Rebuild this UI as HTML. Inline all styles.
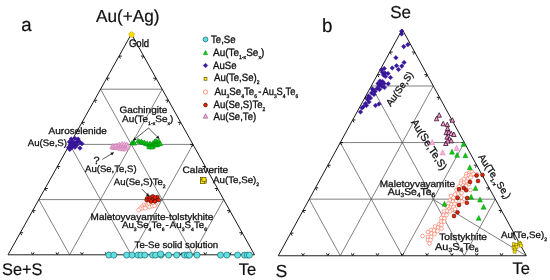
<!DOCTYPE html>
<html><head><meta charset="utf-8"><title>Ternary diagrams</title>
<style>html,body{margin:0;padding:0;background:#fff;overflow:hidden}svg{display:block}text{font-family:"Liberation Sans",sans-serif;text-rendering:geometricPrecision}</style>
</head><body>
<svg width="550" height="280" viewBox="0 0 550 280">
<rect width="550" height="280" fill="#fff"/>
<line x1="100.55" y1="89.20" x2="162.18" y2="89.20" stroke="#4a4a4a" stroke-width="0.7"/>
<line x1="100.55" y1="89.20" x2="192.88" y2="254.80" stroke="#4a4a4a" stroke-width="0.7"/>
<line x1="162.18" y1="89.20" x2="69.62" y2="254.80" stroke="#4a4a4a" stroke-width="0.7"/>
<line x1="69.70" y1="144.40" x2="192.95" y2="144.40" stroke="#4a4a4a" stroke-width="0.7"/>
<line x1="69.70" y1="144.40" x2="131.25" y2="254.80" stroke="#4a4a4a" stroke-width="0.7"/>
<line x1="192.95" y1="144.40" x2="131.25" y2="254.80" stroke="#4a4a4a" stroke-width="0.7"/>
<line x1="38.85" y1="199.60" x2="223.72" y2="199.60" stroke="#4a4a4a" stroke-width="0.7"/>
<line x1="38.85" y1="199.60" x2="69.62" y2="254.80" stroke="#4a4a4a" stroke-width="0.7"/>
<line x1="223.72" y1="199.60" x2="192.88" y2="254.80" stroke="#4a4a4a" stroke-width="0.7"/>
<path d="M32.65 254.80L34.02 252.36 M32.65 254.80L31.29 252.35 M119.06 56.08L121.86 56.08 M119.06 56.08L120.42 58.53 M143.71 56.08L140.91 56.08 M143.71 56.08L142.34 58.52 M57.30 254.80L58.67 252.36 M57.30 254.80L55.94 252.35 M106.72 78.16L109.52 78.16 M106.72 78.16L108.08 80.61 M156.02 78.16L153.22 78.16 M156.02 78.16L154.65 80.60 M81.95 254.80L83.32 252.36 M81.95 254.80L80.59 252.35 M94.38 100.24L97.18 100.24 M94.38 100.24L95.74 102.69 M168.33 100.24L165.53 100.24 M168.33 100.24L166.96 102.68 M106.60 254.80L107.97 252.36 M106.60 254.80L105.24 252.35 M82.04 122.32L84.84 122.32 M82.04 122.32L83.40 124.77 M180.64 122.32L177.84 122.32 M180.64 122.32L179.27 124.76 M131.25 254.80L132.62 252.36 M131.25 254.80L129.89 252.35 M69.70 144.40L72.50 144.40 M69.70 144.40L71.06 146.85 M192.95 144.40L190.15 144.40 M192.95 144.40L191.58 146.84 M155.90 254.80L157.27 252.36 M155.90 254.80L154.54 252.35 M57.36 166.48L60.16 166.48 M57.36 166.48L58.72 168.93 M205.26 166.48L202.46 166.48 M205.26 166.48L203.89 168.92 M180.55 254.80L181.92 252.36 M180.55 254.80L179.19 252.35 M45.02 188.56L47.82 188.56 M45.02 188.56L46.38 191.01 M217.57 188.56L214.77 188.56 M217.57 188.56L216.20 191.00 M205.20 254.80L206.57 252.36 M205.20 254.80L203.84 252.35 M32.68 210.64L35.48 210.64 M32.68 210.64L34.04 213.09 M229.88 210.64L227.08 210.64 M229.88 210.64L228.51 213.08 M229.85 254.80L231.22 252.36 M229.85 254.80L228.49 252.35 M20.34 232.72L23.14 232.72 M20.34 232.72L21.70 235.17 M242.19 232.72L239.39 232.72 M242.19 232.72L240.82 235.16" stroke="#000" stroke-width="0.9" fill="none"/>
<line x1="8" y1="254.8" x2="254.5" y2="254.8" stroke="#222" stroke-width="1.0"/>
<path d="M8 254.8L131.4 34L254.5 254.8" stroke="#161616" stroke-width="1.0" fill="none" stroke-linejoin="miter"/>
<line x1="371.29" y1="85.99" x2="433.30" y2="85.99" stroke="#4a4a4a" stroke-width="0.7"/>
<line x1="371.29" y1="85.99" x2="464.29" y2="255.75" stroke="#4a4a4a" stroke-width="0.7"/>
<line x1="433.30" y1="85.99" x2="340.26" y2="255.75" stroke="#4a4a4a" stroke-width="0.7"/>
<line x1="340.27" y1="142.57" x2="464.30" y2="142.57" stroke="#4a4a4a" stroke-width="0.7"/>
<line x1="340.27" y1="142.57" x2="402.27" y2="255.75" stroke="#4a4a4a" stroke-width="0.7"/>
<line x1="464.30" y1="142.57" x2="402.27" y2="255.75" stroke="#4a4a4a" stroke-width="0.7"/>
<line x1="309.26" y1="199.16" x2="495.30" y2="199.16" stroke="#4a4a4a" stroke-width="0.7"/>
<line x1="309.26" y1="199.16" x2="340.26" y2="255.75" stroke="#4a4a4a" stroke-width="0.7"/>
<line x1="495.30" y1="199.16" x2="464.29" y2="255.75" stroke="#4a4a4a" stroke-width="0.7"/>
<line x1="433.00" y1="199.30" x2="526.30" y2="255.75" stroke="#4a4a4a" stroke-width="0.7"/>
<path d="M303.06 255.75L304.40 253.29 M303.06 255.75L301.71 253.29 M389.89 52.03L392.69 52.03 M389.89 52.03L391.24 54.49 M414.70 52.03L411.90 52.03 M414.70 52.03L413.35 54.49 M327.86 255.75L329.21 253.29 M327.86 255.75L326.51 253.29 M377.49 74.67L380.29 74.67 M377.49 74.67L378.84 77.13 M427.10 74.67L424.30 74.67 M427.10 74.67L425.75 77.13 M352.66 255.75L354.01 253.29 M352.66 255.75L351.32 253.29 M365.09 97.31L367.89 97.31 M365.09 97.31L366.43 99.76 M439.50 97.31L436.70 97.31 M439.50 97.31L438.15 99.76 M377.47 255.75L378.82 253.29 M377.47 255.75L376.12 253.29 M352.68 119.94L355.48 119.94 M352.68 119.94L354.03 122.40 M451.90 119.94L449.10 119.94 M451.90 119.94L450.55 122.40 M402.27 255.75L403.62 253.29 M402.27 255.75L400.93 253.29 M340.27 142.57L343.07 142.57 M340.27 142.57L341.62 145.03 M464.30 142.57L461.50 142.57 M464.30 142.57L462.95 145.03 M427.08 255.75L428.43 253.29 M427.08 255.75L425.73 253.29 M327.87 165.21L330.67 165.21 M327.87 165.21L329.22 167.67 M476.70 165.21L473.90 165.21 M476.70 165.21L475.35 167.67 M451.88 255.75L453.23 253.29 M451.88 255.75L450.54 253.29 M315.47 187.84L318.27 187.84 M315.47 187.84L316.81 190.30 M489.10 187.84L486.30 187.84 M489.10 187.84L487.75 190.30 M476.69 255.75L478.04 253.29 M476.69 255.75L475.34 253.29 M303.06 210.48L305.86 210.48 M303.06 210.48L304.41 212.94 M501.50 210.48L498.70 210.48 M501.50 210.48L500.15 212.94 M501.50 255.75L502.84 253.29 M501.50 255.75L500.15 253.29 M290.65 233.12L293.45 233.12 M290.65 233.12L292.00 235.57 M513.90 233.12L511.10 233.12 M513.90 233.12L512.55 235.57" stroke="#000" stroke-width="0.9" fill="none"/>
<line x1="278.25" y1="255.75" x2="526.3" y2="255.75" stroke="#222" stroke-width="1.0"/>
<path d="M278.25 255.75L402.3 29.4L526.3 255.75" stroke="#161616" stroke-width="1.0" fill="none" stroke-linejoin="miter"/>
<text x="0" y="0" transform="translate(21.3 30.9) scale(1 1.02)" font-size="18.6" text-anchor="start" fill="#111" stroke="#111" stroke-width="0.2">a</text>
<text x="0" y="0" transform="translate(96 22) scale(1 1.02)" font-size="17" text-anchor="start" fill="#111" stroke="#111" stroke-width="0.2" textLength="63.5" lengthAdjust="spacingAndGlyphs">Au(+Ag)</text>
<text x="0" y="0" transform="translate(2 275) scale(1 1.02)" font-size="16.5" text-anchor="start" fill="#111" stroke="#111" stroke-width="0.2" textLength="40.5" lengthAdjust="spacingAndGlyphs">Se+S</text>
<text x="0" y="0" transform="translate(238.7 275) scale(1 1.02)" font-size="16.5" text-anchor="start" fill="#111" stroke="#111" stroke-width="0.2">Te</text>
<text x="0" y="0" transform="translate(128.9 46.5) scale(1 1.1)" font-size="10" text-anchor="start" fill="#111" stroke="#111" stroke-width="0.3" textLength="20.2" lengthAdjust="spacingAndGlyphs">Gold</text>
<text x="0" y="0" transform="translate(48.6 134.2) scale(1 0.96)" font-size="9.75" text-anchor="start" fill="#111" stroke="#111" stroke-width="0.3" textLength="58.3" lengthAdjust="spacingAndGlyphs">Auroselenide</text>
<text x="0" y="0" transform="translate(27.8 145.6) scale(1 0.96)" font-size="9.75" text-anchor="start" fill="#111" stroke="#111" stroke-width="0.3" textLength="39.2" lengthAdjust="spacingAndGlyphs">Au(Se,S)</text>
<text x="0" y="0" transform="translate(93.4 163.5) scale(1 0.96)" font-size="11" text-anchor="start" fill="#111" stroke="#111" stroke-width="0.3">?</text>
<text x="0" y="0" transform="translate(85 172.1) scale(1 0.96)" font-size="9.75" text-anchor="start" fill="#111" stroke="#111" stroke-width="0.3" textLength="51.6" lengthAdjust="spacingAndGlyphs">Au(Se,Te,S)</text>
<text x="0" y="0" transform="translate(119.4 112.8) scale(1 0.96)" font-size="9.75" text-anchor="start" fill="#111" stroke="#111" stroke-width="0.3" textLength="47.9" lengthAdjust="spacingAndGlyphs">Gachingite</text>
<text x="0" y="0" transform="translate(122.1 122.4) scale(1 0.96)" font-size="9.75" text-anchor="start" fill="#111" stroke="#111" stroke-width="0.3" textLength="51.3" lengthAdjust="spacingAndGlyphs">Au(Te<tspan dy="2.63" font-size="5.07">1-x</tspan><tspan dy="-2.63" font-size="9.75">Se</tspan><tspan dy="2.63" font-size="5.07">x</tspan><tspan dy="-2.63" font-size="9.75">)</tspan></text>
<text x="0" y="0" transform="translate(113.75 185.3) scale(1 0.96)" font-size="9.75" text-anchor="start" fill="#111" stroke="#111" stroke-width="0.3" textLength="51.8" lengthAdjust="spacingAndGlyphs">Au(Se,S)Te<tspan dy="2.63" font-size="5.07">2</tspan></text>
<text x="0" y="0" transform="translate(182.5 173.2) scale(1 0.96)" font-size="9.75" text-anchor="start" fill="#111" stroke="#111" stroke-width="0.3" textLength="45.6" lengthAdjust="spacingAndGlyphs">Calaverite</text>
<text x="0" y="0" transform="translate(213 183.4) scale(1 0.96)" font-size="9.75" text-anchor="start" fill="#111" stroke="#111" stroke-width="0.3">Au(Te,Se)<tspan dy="2.63" font-size="5.07">2</tspan></text>
<text x="0" y="0" transform="translate(90.6 219.7) scale(1 0.96)" font-size="9.75" text-anchor="start" fill="#111" stroke="#111" stroke-width="0.3" textLength="122.8" lengthAdjust="spacingAndGlyphs">Maletoyvayamite-tolstykhite</text>
<text x="0" y="0" transform="translate(121.9 228.1) scale(1 0.96)" font-size="9.75" text-anchor="start" fill="#111" stroke="#111" stroke-width="0.3">Au<tspan dy="2.63" font-size="5.07">3</tspan><tspan dy="-2.63" font-size="9.75">Se</tspan><tspan dy="2.63" font-size="5.07">4</tspan><tspan dy="-2.63" font-size="9.75">Te</tspan><tspan dy="2.63" font-size="5.07">6</tspan></text>
<text x="0" y="0" transform="translate(165.4 228.1) scale(1 0.96)" font-size="9.75" text-anchor="start" fill="#111" stroke="#111" stroke-width="0.3">-</text>
<text x="0" y="0" transform="translate(169.8 228.1) scale(1 0.96)" font-size="9.75" text-anchor="start" fill="#111" stroke="#111" stroke-width="0.3">Au<tspan dy="2.63" font-size="5.07">3</tspan><tspan dy="-2.63" font-size="9.75">S</tspan><tspan dy="2.63" font-size="5.07">4</tspan><tspan dy="-2.63" font-size="9.75">Te</tspan><tspan dy="2.63" font-size="5.07">6</tspan></text>
<text x="0" y="0" transform="translate(134.6 248.2) scale(1 0.96)" font-size="9.75" text-anchor="start" fill="#111" stroke="#111" stroke-width="0.3" textLength="83.6" lengthAdjust="spacingAndGlyphs">Te-Se solid solution</text>
<circle cx="205.50" cy="39.40" r="2.4" fill="#62e0e0" stroke="#1f6f78" stroke-width="0.8"/>
<text x="0" y="0" transform="translate(211 43.45) scale(1 1.1)" font-size="9.6" text-anchor="start" fill="#111" stroke="#111" stroke-width="0.3">Te,Se</text>
<path d="M205.50 50.40L207.66 54.72L203.34 54.72Z" fill="#04cc04" stroke="#0a8a1a" stroke-width="0.5"/>
<text x="0" y="0" transform="translate(213 55.8) scale(1 1.1)" font-size="9.6" text-anchor="start" fill="#111" stroke="#111" stroke-width="0.3" textLength="51.3" lengthAdjust="spacingAndGlyphs">Au(Te<tspan dy="2.59" font-size="4.99">1-x</tspan><tspan dy="-2.59" font-size="9.6">Se</tspan><tspan dy="2.59" font-size="4.99">x</tspan><tspan dy="-2.59" font-size="9.6">)</tspan></text>
<path d="M205.50 63.20L207.80 65.50L205.50 67.80L203.20 65.50Z" fill="#3a16a0" stroke="#2a0e80" stroke-width="0.4"/>
<text x="0" y="0" transform="translate(213 68.7) scale(1 1.1)" font-size="9.6" text-anchor="start" fill="#111" stroke="#111" stroke-width="0.3">AuSe</text>
<rect x="204.05" y="77.35" width="2.9" height="2.9" fill="#ffe800" stroke="#4a4200" stroke-width="0.6"/>
<text x="0" y="0" transform="translate(214 81.45) scale(1 1.1)" font-size="9.6" text-anchor="start" fill="#111" stroke="#111" stroke-width="0.3">Au(Te,Se)<tspan dy="2.59" font-size="4.99">2</tspan></text>
<circle cx="205.50" cy="92.00" r="2.1" fill="#fff" stroke="#ff5030" stroke-width="0.6"/>
<text x="0" y="0" transform="translate(214.5 95.4) scale(1 1.1)" font-size="9.6" text-anchor="start" fill="#111" stroke="#111" stroke-width="0.3" textLength="42.6" lengthAdjust="spacingAndGlyphs">Au<tspan dy="2.59" font-size="4.99">3</tspan><tspan dy="-2.59" font-size="9.6">Se</tspan><tspan dy="2.59" font-size="4.99">4</tspan><tspan dy="-2.59" font-size="9.6">Te</tspan><tspan dy="2.59" font-size="4.99">6</tspan></text>
<text x="0" y="0" transform="translate(258.2 95.4) scale(1 1.1)" font-size="9.6" text-anchor="start" fill="#111" stroke="#111" stroke-width="0.3">-</text>
<text x="0" y="0" transform="translate(262.5 95.4) scale(1 1.1)" font-size="9.6" text-anchor="start" fill="#111" stroke="#111" stroke-width="0.3" textLength="35.6" lengthAdjust="spacingAndGlyphs">Au<tspan dy="2.59" font-size="4.99">3</tspan><tspan dy="-2.59" font-size="9.6">S</tspan><tspan dy="2.59" font-size="4.99">4</tspan><tspan dy="-2.59" font-size="9.6">Te</tspan><tspan dy="2.59" font-size="4.99">6</tspan></text>
<circle cx="205.50" cy="105.00" r="1.9" fill="#ee2200" stroke="#3c0800" stroke-width="0.6"/>
<text x="0" y="0" transform="translate(213.5 108.1) scale(1 1.1)" font-size="9.6" text-anchor="start" fill="#111" stroke="#111" stroke-width="0.3">Au(Se,S)Te<tspan dy="2.59" font-size="4.99">2</tspan></text>
<path d="M205.50 113.70L207.75 118.20L203.25 118.20Z" fill="#f6a8dc" stroke="#7a3a68" stroke-width="0.5"/>
<text x="0" y="0" transform="translate(213.5 120.2) scale(1 1.1)" font-size="9.6" text-anchor="start" fill="#111" stroke="#111" stroke-width="0.3">Au(Se,Te)</text>
<path d="M131.60 31.60L134.45 33.67L133.36 37.03L129.84 37.03L128.75 33.67Z" fill="#ffe000" stroke="#c09a00" stroke-width="0.6"/>
<circle cx="108.90" cy="255.10" r="3.05" fill="#62e0e0" stroke="#1f6f78" stroke-width="0.7"/>
<circle cx="113.80" cy="255.10" r="3.05" fill="#62e0e0" stroke="#1f6f78" stroke-width="0.7"/>
<circle cx="126.60" cy="255.10" r="3.05" fill="#62e0e0" stroke="#1f6f78" stroke-width="0.7"/>
<circle cx="132.10" cy="255.10" r="3.05" fill="#62e0e0" stroke="#1f6f78" stroke-width="0.7"/>
<circle cx="138.00" cy="255.10" r="3.05" fill="#62e0e0" stroke="#1f6f78" stroke-width="0.7"/>
<circle cx="140.90" cy="255.10" r="3.05" fill="#62e0e0" stroke="#1f6f78" stroke-width="0.7"/>
<circle cx="144.80" cy="255.10" r="3.05" fill="#62e0e0" stroke="#1f6f78" stroke-width="0.7"/>
<circle cx="152.70" cy="255.10" r="3.05" fill="#62e0e0" stroke="#1f6f78" stroke-width="0.7"/>
<circle cx="155.60" cy="255.10" r="3.05" fill="#62e0e0" stroke="#1f6f78" stroke-width="0.7"/>
<circle cx="161.00" cy="255.10" r="3.05" fill="#62e0e0" stroke="#1f6f78" stroke-width="0.7"/>
<circle cx="168.60" cy="255.10" r="3.05" fill="#62e0e0" stroke="#1f6f78" stroke-width="0.7"/>
<circle cx="176.70" cy="255.10" r="3.05" fill="#62e0e0" stroke="#1f6f78" stroke-width="0.7"/>
<circle cx="184.60" cy="255.10" r="3.05" fill="#62e0e0" stroke="#1f6f78" stroke-width="0.7"/>
<circle cx="187.50" cy="255.10" r="3.05" fill="#62e0e0" stroke="#1f6f78" stroke-width="0.7"/>
<circle cx="189.50" cy="255.10" r="3.05" fill="#62e0e0" stroke="#1f6f78" stroke-width="0.7"/>
<circle cx="197.00" cy="255.10" r="3.05" fill="#62e0e0" stroke="#1f6f78" stroke-width="0.7"/>
<circle cx="220.50" cy="255.10" r="3.05" fill="#62e0e0" stroke="#1f6f78" stroke-width="0.7"/>
<circle cx="226.80" cy="255.10" r="3.05" fill="#62e0e0" stroke="#1f6f78" stroke-width="0.7"/>
<circle cx="237.60" cy="255.10" r="3.05" fill="#62e0e0" stroke="#1f6f78" stroke-width="0.7"/>
<circle cx="244.50" cy="255.10" r="3.05" fill="#62e0e0" stroke="#1f6f78" stroke-width="0.7"/>
<circle cx="247.30" cy="255.10" r="3.05" fill="#62e0e0" stroke="#1f6f78" stroke-width="0.7"/>
<circle cx="249.40" cy="255.10" r="3.05" fill="#62e0e0" stroke="#1f6f78" stroke-width="0.7"/>
<circle cx="160.60" cy="254.00" r="3.05" fill="#62e0e0" stroke="#1f6f78" stroke-width="0.7"/>
<path d="M71.25 136.70L73.55 139.00L71.25 141.30L68.95 139.00Z" fill="#3a16a0" stroke="#2a0e80" stroke-width="0.4"/>
<path d="M75.00 136.20L77.30 138.50L75.00 140.80L72.70 138.50Z" fill="#3a16a0" stroke="#2a0e80" stroke-width="0.4"/>
<path d="M78.10 136.70L80.40 139.00L78.10 141.30L75.80 139.00Z" fill="#3a16a0" stroke="#2a0e80" stroke-width="0.4"/>
<path d="M69.40 139.60L71.70 141.90L69.40 144.20L67.10 141.90Z" fill="#3a16a0" stroke="#2a0e80" stroke-width="0.4"/>
<path d="M73.10 139.60L75.40 141.90L73.10 144.20L70.80 141.90Z" fill="#3a16a0" stroke="#2a0e80" stroke-width="0.4"/>
<path d="M76.90 139.60L79.20 141.90L76.90 144.20L74.60 141.90Z" fill="#3a16a0" stroke="#2a0e80" stroke-width="0.4"/>
<path d="M80.00 140.20L82.30 142.50L80.00 144.80L77.70 142.50Z" fill="#3a16a0" stroke="#2a0e80" stroke-width="0.4"/>
<path d="M81.90 141.45L84.20 143.75L81.90 146.05L79.60 143.75Z" fill="#3a16a0" stroke="#2a0e80" stroke-width="0.4"/>
<path d="M70.00 142.70L72.30 145.00L70.00 147.30L67.70 145.00Z" fill="#3a16a0" stroke="#2a0e80" stroke-width="0.4"/>
<path d="M73.75 142.70L76.05 145.00L73.75 147.30L71.45 145.00Z" fill="#3a16a0" stroke="#2a0e80" stroke-width="0.4"/>
<path d="M76.90 142.70L79.20 145.00L76.90 147.30L74.60 145.00Z" fill="#3a16a0" stroke="#2a0e80" stroke-width="0.4"/>
<path d="M68.50 145.20L70.80 147.50L68.50 149.80L66.20 147.50Z" fill="#3a16a0" stroke="#2a0e80" stroke-width="0.4"/>
<path d="M71.90 145.20L74.20 147.50L71.90 149.80L69.60 147.50Z" fill="#3a16a0" stroke="#2a0e80" stroke-width="0.4"/>
<path d="M75.00 144.95L77.30 147.25L75.00 149.55L72.70 147.25Z" fill="#3a16a0" stroke="#2a0e80" stroke-width="0.4"/>
<path d="M80.00 145.80L82.30 148.10L80.00 150.40L77.70 148.10Z" fill="#3a16a0" stroke="#2a0e80" stroke-width="0.4"/>
<path d="M69.75 147.10L72.05 149.40L69.75 151.70L67.45 149.40Z" fill="#3a16a0" stroke="#2a0e80" stroke-width="0.4"/>
<path d="M72.50 141.20L74.80 143.50L72.50 145.80L70.20 143.50Z" fill="#3a16a0" stroke="#2a0e80" stroke-width="0.4"/>
<path d="M75.50 141.20L77.80 143.50L75.50 145.80L73.20 143.50Z" fill="#3a16a0" stroke="#2a0e80" stroke-width="0.4"/>
<path d="M78.50 138.70L80.80 141.00L78.50 143.30L76.20 141.00Z" fill="#3a16a0" stroke="#2a0e80" stroke-width="0.4"/>
<path d="M112.00 144.30L114.25 148.80L109.75 148.80Z" fill="#fbbde6" stroke="#b8689f" stroke-width="0.45"/>
<path d="M113.00 143.30L115.25 147.80L110.75 147.80Z" fill="#fbbde6" stroke="#b8689f" stroke-width="0.45"/>
<path d="M113.50 145.10L115.75 149.60L111.25 149.60Z" fill="#fbbde6" stroke="#b8689f" stroke-width="0.45"/>
<path d="M114.50 143.90L116.75 148.40L112.25 148.40Z" fill="#fbbde6" stroke="#b8689f" stroke-width="0.45"/>
<path d="M115.50 144.90L117.75 149.40L113.25 149.40Z" fill="#fbbde6" stroke="#b8689f" stroke-width="0.45"/>
<path d="M116.00 143.10L118.25 147.60L113.75 147.60Z" fill="#fbbde6" stroke="#b8689f" stroke-width="0.45"/>
<path d="M117.00 144.30L119.25 148.80L114.75 148.80Z" fill="#fbbde6" stroke="#b8689f" stroke-width="0.45"/>
<path d="M118.00 142.90L120.25 147.40L115.75 147.40Z" fill="#fbbde6" stroke="#b8689f" stroke-width="0.45"/>
<path d="M118.30 145.30L120.55 149.80L116.05 149.80Z" fill="#fbbde6" stroke="#b8689f" stroke-width="0.45"/>
<path d="M119.50 142.10L121.75 146.60L117.25 146.60Z" fill="#fbbde6" stroke="#b8689f" stroke-width="0.45"/>
<path d="M119.80 144.50L122.05 149.00L117.55 149.00Z" fill="#fbbde6" stroke="#b8689f" stroke-width="0.45"/>
<path d="M120.60 146.10L122.85 150.60L118.35 150.60Z" fill="#fbbde6" stroke="#b8689f" stroke-width="0.45"/>
<path d="M121.00 143.10L123.25 147.60L118.75 147.60Z" fill="#fbbde6" stroke="#b8689f" stroke-width="0.45"/>
<path d="M122.00 141.30L124.25 145.80L119.75 145.80Z" fill="#fbbde6" stroke="#b8689f" stroke-width="0.45"/>
<path d="M122.20 144.70L124.45 149.20L119.95 149.20Z" fill="#fbbde6" stroke="#b8689f" stroke-width="0.45"/>
<path d="M123.00 146.50L125.25 151.00L120.75 151.00Z" fill="#fbbde6" stroke="#b8689f" stroke-width="0.45"/>
<path d="M123.40 142.90L125.65 147.40L121.15 147.40Z" fill="#fbbde6" stroke="#b8689f" stroke-width="0.45"/>
<path d="M124.40 141.50L126.65 146.00L122.15 146.00Z" fill="#fbbde6" stroke="#b8689f" stroke-width="0.45"/>
<path d="M124.60 144.90L126.85 149.40L122.35 149.40Z" fill="#fbbde6" stroke="#b8689f" stroke-width="0.45"/>
<path d="M125.40 146.30L127.65 150.80L123.15 150.80Z" fill="#fbbde6" stroke="#b8689f" stroke-width="0.45"/>
<path d="M125.80 143.10L128.05 147.60L123.55 147.60Z" fill="#fbbde6" stroke="#b8689f" stroke-width="0.45"/>
<path d="M126.80 141.90L129.05 146.40L124.55 146.40Z" fill="#fbbde6" stroke="#b8689f" stroke-width="0.45"/>
<path d="M127.00 144.90L129.25 149.40L124.75 149.40Z" fill="#fbbde6" stroke="#b8689f" stroke-width="0.45"/>
<path d="M128.00 143.50L130.25 148.00L125.75 148.00Z" fill="#fbbde6" stroke="#b8689f" stroke-width="0.45"/>
<path d="M132.00 140.40L134.16 144.72L129.84 144.72Z" fill="#04cc04" stroke="#067a10" stroke-width="0.5"/>
<path d="M133.60 139.40L135.76 143.72L131.44 143.72Z" fill="#04cc04" stroke="#067a10" stroke-width="0.5"/>
<path d="M134.40 140.80L136.56 145.12L132.24 145.12Z" fill="#04cc04" stroke="#067a10" stroke-width="0.5"/>
<path d="M138.00 138.20L140.16 142.52L135.84 142.52Z" fill="#04cc04" stroke="#067a10" stroke-width="0.5"/>
<path d="M139.60 139.20L141.76 143.52L137.44 143.52Z" fill="#04cc04" stroke="#067a10" stroke-width="0.5"/>
<path d="M141.30 139.00L143.46 143.32L139.14 143.32Z" fill="#04cc04" stroke="#067a10" stroke-width="0.5"/>
<path d="M142.80 140.20L144.96 144.52L140.64 144.52Z" fill="#04cc04" stroke="#067a10" stroke-width="0.5"/>
<path d="M144.40 140.00L146.56 144.32L142.24 144.32Z" fill="#04cc04" stroke="#067a10" stroke-width="0.5"/>
<path d="M145.80 141.40L147.96 145.72L143.64 145.72Z" fill="#04cc04" stroke="#067a10" stroke-width="0.5"/>
<path d="M147.30 140.80L149.46 145.12L145.14 145.12Z" fill="#04cc04" stroke="#067a10" stroke-width="0.5"/>
<path d="M148.60 142.80L150.76 147.12L146.44 147.12Z" fill="#04cc04" stroke="#067a10" stroke-width="0.5"/>
<path d="M150.00 141.00L152.16 145.32L147.84 145.32Z" fill="#04cc04" stroke="#067a10" stroke-width="0.5"/>
<path d="M150.40 144.20L152.56 148.52L148.24 148.52Z" fill="#04cc04" stroke="#067a10" stroke-width="0.5"/>
<path d="M151.80 142.20L153.96 146.52L149.64 146.52Z" fill="#04cc04" stroke="#067a10" stroke-width="0.5"/>
<path d="M153.00 140.60L155.16 144.92L150.84 144.92Z" fill="#04cc04" stroke="#067a10" stroke-width="0.5"/>
<path d="M153.20 144.00L155.36 148.32L151.04 148.32Z" fill="#04cc04" stroke="#067a10" stroke-width="0.5"/>
<path d="M154.60 139.20L156.76 143.52L152.44 143.52Z" fill="#04cc04" stroke="#067a10" stroke-width="0.5"/>
<path d="M154.80 142.40L156.96 146.72L152.64 146.72Z" fill="#04cc04" stroke="#067a10" stroke-width="0.5"/>
<path d="M156.00 138.20L158.16 142.52L153.84 142.52Z" fill="#04cc04" stroke="#067a10" stroke-width="0.5"/>
<path d="M156.30 141.20L158.46 145.52L154.14 145.52Z" fill="#04cc04" stroke="#067a10" stroke-width="0.5"/>
<path d="M157.60 139.60L159.76 143.92L155.44 143.92Z" fill="#04cc04" stroke="#067a10" stroke-width="0.5"/>
<path d="M157.40 142.60L159.56 146.92L155.24 146.92Z" fill="#04cc04" stroke="#067a10" stroke-width="0.5"/>
<path d="M159.00 138.80L161.16 143.12L156.84 143.12Z" fill="#04cc04" stroke="#067a10" stroke-width="0.5"/>
<path d="M159.20 141.40L161.36 145.72L157.04 145.72Z" fill="#04cc04" stroke="#067a10" stroke-width="0.5"/>
<path d="M160.40 141.20L162.56 145.52L158.24 145.52Z" fill="#04cc04" stroke="#067a10" stroke-width="0.5"/>
<path d="M149.00 144.60L151.16 148.92L146.84 148.92Z" fill="#04cc04" stroke="#067a10" stroke-width="0.5"/>
<path d="M152.00 144.80L154.16 149.12L149.84 149.12Z" fill="#04cc04" stroke="#067a10" stroke-width="0.5"/>
<rect x="200.30" y="177.40" width="4.0" height="4.0" fill="#ffe800" stroke="#4a4200" stroke-width="0.6"/>
<rect x="202.20" y="179.20" width="4.0" height="4.0" fill="#ffe800" stroke="#4a4200" stroke-width="0.6"/>
<rect x="200.60" y="179.70" width="4.0" height="4.0" fill="#ffe800" stroke="#4a4200" stroke-width="0.6"/>
<rect x="202.00" y="177.30" width="4.0" height="4.0" fill="#ffe800" stroke="#4a4200" stroke-width="0.6"/>
<circle cx="155.70" cy="204.40" r="1.9" fill="#fff" stroke="#ff5030" stroke-width="0.45"/>
<circle cx="153.10" cy="204.00" r="1.9" fill="#fff" stroke="#ff5030" stroke-width="0.45"/>
<circle cx="150.60" cy="204.90" r="1.9" fill="#fff" stroke="#ff5030" stroke-width="0.45"/>
<circle cx="148.40" cy="204.00" r="1.9" fill="#fff" stroke="#ff5030" stroke-width="0.45"/>
<circle cx="145.90" cy="204.90" r="1.9" fill="#fff" stroke="#ff5030" stroke-width="0.45"/>
<circle cx="143.70" cy="204.90" r="1.9" fill="#fff" stroke="#ff5030" stroke-width="0.45"/>
<circle cx="147.10" cy="206.60" r="1.9" fill="#fff" stroke="#ff5030" stroke-width="0.45"/>
<circle cx="144.60" cy="207.00" r="1.9" fill="#fff" stroke="#ff5030" stroke-width="0.45"/>
<circle cx="149.70" cy="207.00" r="1.9" fill="#fff" stroke="#ff5030" stroke-width="0.45"/>
<circle cx="142.00" cy="206.60" r="1.9" fill="#fff" stroke="#ff5030" stroke-width="0.45"/>
<circle cx="142.90" cy="208.30" r="1.9" fill="#fff" stroke="#ff5030" stroke-width="0.45"/>
<circle cx="140.30" cy="208.70" r="1.9" fill="#fff" stroke="#ff5030" stroke-width="0.45"/>
<circle cx="138.60" cy="210.00" r="1.9" fill="#fff" stroke="#ff5030" stroke-width="0.45"/>
<circle cx="145.40" cy="208.30" r="1.9" fill="#fff" stroke="#ff5030" stroke-width="0.45"/>
<circle cx="152.30" cy="206.10" r="1.9" fill="#fff" stroke="#ff5030" stroke-width="0.45"/>
<circle cx="154.50" cy="205.80" r="1.9" fill="#fff" stroke="#ff5030" stroke-width="0.45"/>
<circle cx="147.10" cy="198.40" r="1.9" fill="#ee2200" stroke="#3c0800" stroke-width="0.6"/>
<circle cx="149.70" cy="197.60" r="1.9" fill="#ee2200" stroke="#3c0800" stroke-width="0.6"/>
<circle cx="152.70" cy="196.30" r="1.9" fill="#ee2200" stroke="#3c0800" stroke-width="0.6"/>
<circle cx="157.40" cy="197.10" r="1.9" fill="#ee2200" stroke="#3c0800" stroke-width="0.6"/>
<circle cx="146.70" cy="200.10" r="1.9" fill="#ee2200" stroke="#3c0800" stroke-width="0.6"/>
<circle cx="149.70" cy="200.10" r="1.9" fill="#ee2200" stroke="#3c0800" stroke-width="0.6"/>
<circle cx="152.70" cy="200.10" r="1.9" fill="#ee2200" stroke="#3c0800" stroke-width="0.6"/>
<circle cx="155.70" cy="199.70" r="1.9" fill="#ee2200" stroke="#3c0800" stroke-width="0.6"/>
<circle cx="158.70" cy="200.10" r="1.9" fill="#ee2200" stroke="#3c0800" stroke-width="0.6"/>
<circle cx="151.00" cy="201.40" r="1.9" fill="#ee2200" stroke="#3c0800" stroke-width="0.6"/>
<circle cx="154.90" cy="201.40" r="1.9" fill="#ee2200" stroke="#3c0800" stroke-width="0.6"/>
<circle cx="155.00" cy="197.60" r="1.9" fill="#ee2200" stroke="#3c0800" stroke-width="0.6"/>
<line x1="102.3" y1="159.4" x2="111.19" y2="154.09" stroke="#111" stroke-width="0.7"/>
<path d="M114.20 152.30L112.01 155.47L110.37 152.72Z" fill="#111"/>
<line x1="148.5" y1="128" x2="135.61" y2="138.49" stroke="#111" stroke-width="0.7"/>
<path d="M132.90 140.70L134.60 137.25L136.62 139.73Z" fill="#111"/>
<line x1="148.5" y1="128" x2="157.03" y2="136.53" stroke="#111" stroke-width="0.7"/>
<path d="M159.50 139.00L155.89 137.66L158.16 135.39Z" fill="#111"/>
<line x1="142" y1="189.2" x2="146.94" y2="194.21" stroke="#111" stroke-width="0.7"/>
<path d="M149.40 196.70L145.80 195.33L148.08 193.08Z" fill="#111"/>
<text x="0" y="0" transform="translate(322 32) scale(1 1.02)" font-size="18.8" text-anchor="start" fill="#111" stroke="#111" stroke-width="0.2">b</text>
<text x="0" y="0" transform="translate(390.2 18.4) scale(1 1.02)" font-size="17" text-anchor="start" fill="#111" stroke="#111" stroke-width="0.2">Se</text>
<text x="0" y="0" transform="translate(275.8 276.7) scale(1 1.02)" font-size="17.2" text-anchor="start" fill="#111" stroke="#111" stroke-width="0.2">S</text>
<text x="0" y="0" transform="translate(512.5 274) scale(1 1.02)" font-size="16.5" text-anchor="start" fill="#111" stroke="#111" stroke-width="0.2">Te</text>
<text x="0" y="0" transform="translate(379.7 186.6) scale(1 0.96)" font-size="9.75" text-anchor="start" fill="#111" stroke="#111" stroke-width="0.3" textLength="75.4" lengthAdjust="spacingAndGlyphs">Maletoyvayamite</text>
<text x="0" y="0" transform="translate(387.8 195.1) scale(1 0.96)" font-size="10.2" text-anchor="start" fill="#111" stroke="#111" stroke-width="0.3" textLength="47.3" lengthAdjust="spacingAndGlyphs">Au<tspan dy="2.45" font-size="6.32">3</tspan><tspan dy="-2.45" font-size="10.2">Se</tspan><tspan dy="2.45" font-size="6.32">4</tspan><tspan dy="-2.45" font-size="10.2">Te</tspan><tspan dy="2.45" font-size="6.32">6</tspan></text>
<text x="0" y="0" transform="translate(439.2 239.9) scale(1 0.96)" font-size="9.75" text-anchor="start" fill="#111" stroke="#111" stroke-width="0.3" textLength="47.8" lengthAdjust="spacingAndGlyphs">Tolstykhite</text>
<text x="0" y="0" transform="translate(435 249.8) scale(1 0.96)" font-size="10.3" text-anchor="start" fill="#111" stroke="#111" stroke-width="0.3" textLength="43.6" lengthAdjust="spacingAndGlyphs">Au<tspan dy="2.47" font-size="6.39">3</tspan><tspan dy="-2.47" font-size="10.3">S</tspan><tspan dy="2.47" font-size="6.39">4</tspan><tspan dy="-2.47" font-size="10.3">Te</tspan><tspan dy="2.47" font-size="6.39">6</tspan></text>
<text x="0" y="0" transform="translate(500.9 238) scale(1 0.96)" font-size="9.75" text-anchor="start" fill="#111" stroke="#111" stroke-width="0.3">Au(Te,Se)<tspan dy="2.63" font-size="5.07">2</tspan></text>
<text x="0" y="0" transform="translate(390.8 107) scale(1 1.045) rotate(-53.5)" font-size="9.5" text-anchor="start" fill="#111" stroke="#111" stroke-width="0.3">Au(Se,S)</text>
<text x="0" y="0" transform="translate(410.7 122.3) scale(1 1.045) rotate(56.3)" font-size="10.4" text-anchor="start" fill="#111" stroke="#111" stroke-width="0.3">Au(Se,Te,S)</text>
<text x="0" y="0" transform="translate(478 157) scale(1 1.045) rotate(55.5)" font-size="9.6" text-anchor="start" fill="#111" stroke="#111" stroke-width="0.3">Au(Te<tspan dy="2.59" font-size="4.99">1-x</tspan><tspan dy="-2.59" font-size="9.6">Se</tspan><tspan dy="2.59" font-size="4.99">x</tspan><tspan dy="-2.59" font-size="9.6">)</tspan></text>
<path d="M401.60 28.95L403.90 31.25L401.60 33.55L399.30 31.25Z" fill="#3a16a0" stroke="#2a0e80" stroke-width="0.4"/>
<path d="M401.60 31.70L403.90 34.00L401.60 36.30L399.30 34.00Z" fill="#3a16a0" stroke="#2a0e80" stroke-width="0.4"/>
<path d="M403.75 44.30L406.05 46.60L403.75 48.90L401.45 46.60Z" fill="#3a16a0" stroke="#2a0e80" stroke-width="0.4"/>
<path d="M407.90 42.30L410.20 44.60L407.90 46.90L405.60 44.60Z" fill="#3a16a0" stroke="#2a0e80" stroke-width="0.4"/>
<path d="M395.90 55.40L398.20 57.70L395.90 60.00L393.60 57.70Z" fill="#3a16a0" stroke="#2a0e80" stroke-width="0.4"/>
<path d="M404.10 60.20L406.40 62.50L404.10 64.80L401.80 62.50Z" fill="#3a16a0" stroke="#2a0e80" stroke-width="0.4"/>
<path d="M401.80 63.80L404.10 66.10L401.80 68.40L399.50 66.10Z" fill="#3a16a0" stroke="#2a0e80" stroke-width="0.4"/>
<path d="M396.50 63.50L398.80 65.80L396.50 68.10L394.20 65.80Z" fill="#3a16a0" stroke="#2a0e80" stroke-width="0.4"/>
<path d="M392.20 65.70L394.50 68.00L392.20 70.30L389.90 68.00Z" fill="#3a16a0" stroke="#2a0e80" stroke-width="0.4"/>
<path d="M398.50 67.20L400.80 69.50L398.50 71.80L396.20 69.50Z" fill="#3a16a0" stroke="#2a0e80" stroke-width="0.4"/>
<path d="M384.20 66.20L386.50 68.50L384.20 70.80L381.90 68.50Z" fill="#3a16a0" stroke="#2a0e80" stroke-width="0.4"/>
<path d="M381.50 67.70L383.80 70.00L381.50 72.30L379.20 70.00Z" fill="#3a16a0" stroke="#2a0e80" stroke-width="0.4"/>
<path d="M382.50 70.20L384.80 72.50L382.50 74.80L380.20 72.50Z" fill="#3a16a0" stroke="#2a0e80" stroke-width="0.4"/>
<path d="M385.00 70.70L387.30 73.00L385.00 75.30L382.70 73.00Z" fill="#3a16a0" stroke="#2a0e80" stroke-width="0.4"/>
<path d="M388.00 71.20L390.30 73.50L388.00 75.80L385.70 73.50Z" fill="#3a16a0" stroke="#2a0e80" stroke-width="0.4"/>
<path d="M383.50 72.70L385.80 75.00L383.50 77.30L381.20 75.00Z" fill="#3a16a0" stroke="#2a0e80" stroke-width="0.4"/>
<path d="M385.50 74.20L387.80 76.50L385.50 78.80L383.20 76.50Z" fill="#3a16a0" stroke="#2a0e80" stroke-width="0.4"/>
<path d="M390.50 75.20L392.80 77.50L390.50 79.80L388.20 77.50Z" fill="#3a16a0" stroke="#2a0e80" stroke-width="0.4"/>
<path d="M380.00 78.70L382.30 81.00L380.00 83.30L377.70 81.00Z" fill="#3a16a0" stroke="#2a0e80" stroke-width="0.4"/>
<path d="M382.50 79.20L384.80 81.50L382.50 83.80L380.20 81.50Z" fill="#3a16a0" stroke="#2a0e80" stroke-width="0.4"/>
<path d="M378.00 81.20L380.30 83.50L378.00 85.80L375.70 83.50Z" fill="#3a16a0" stroke="#2a0e80" stroke-width="0.4"/>
<path d="M381.00 81.70L383.30 84.00L381.00 86.30L378.70 84.00Z" fill="#3a16a0" stroke="#2a0e80" stroke-width="0.4"/>
<path d="M384.00 81.20L386.30 83.50L384.00 85.80L381.70 83.50Z" fill="#3a16a0" stroke="#2a0e80" stroke-width="0.4"/>
<path d="M388.20 81.50L390.50 83.80L388.20 86.10L385.90 83.80Z" fill="#3a16a0" stroke="#2a0e80" stroke-width="0.4"/>
<path d="M379.00 83.70L381.30 86.00L379.00 88.30L376.70 86.00Z" fill="#3a16a0" stroke="#2a0e80" stroke-width="0.4"/>
<path d="M382.00 84.20L384.30 86.50L382.00 88.80L379.70 86.50Z" fill="#3a16a0" stroke="#2a0e80" stroke-width="0.4"/>
<path d="M384.50 85.20L386.80 87.50L384.50 89.80L382.20 87.50Z" fill="#3a16a0" stroke="#2a0e80" stroke-width="0.4"/>
<path d="M372.50 86.70L374.80 89.00L372.50 91.30L370.20 89.00Z" fill="#3a16a0" stroke="#2a0e80" stroke-width="0.4"/>
<path d="M377.00 86.20L379.30 88.50L377.00 90.80L374.70 88.50Z" fill="#3a16a0" stroke="#2a0e80" stroke-width="0.4"/>
<path d="M379.50 87.20L381.80 89.50L379.50 91.80L377.20 89.50Z" fill="#3a16a0" stroke="#2a0e80" stroke-width="0.4"/>
<path d="M373.00 87.50L375.30 89.80L373.00 92.10L370.70 89.80Z" fill="#3a16a0" stroke="#2a0e80" stroke-width="0.4"/>
<path d="M375.00 89.20L377.30 91.50L375.00 93.80L372.70 91.50Z" fill="#3a16a0" stroke="#2a0e80" stroke-width="0.4"/>
<path d="M371.50 90.70L373.80 93.00L371.50 95.30L369.20 93.00Z" fill="#3a16a0" stroke="#2a0e80" stroke-width="0.4"/>
<path d="M374.00 92.20L376.30 94.50L374.00 96.80L371.70 94.50Z" fill="#3a16a0" stroke="#2a0e80" stroke-width="0.4"/>
<path d="M368.50 93.70L370.80 96.00L368.50 98.30L366.20 96.00Z" fill="#3a16a0" stroke="#2a0e80" stroke-width="0.4"/>
<path d="M370.50 95.70L372.80 98.00L370.50 100.30L368.20 98.00Z" fill="#3a16a0" stroke="#2a0e80" stroke-width="0.4"/>
<path d="M367.50 97.20L369.80 99.50L367.50 101.80L365.20 99.50Z" fill="#3a16a0" stroke="#2a0e80" stroke-width="0.4"/>
<path d="M369.00 99.70L371.30 102.00L369.00 104.30L366.70 102.00Z" fill="#3a16a0" stroke="#2a0e80" stroke-width="0.4"/>
<path d="M365.50 101.20L367.80 103.50L365.50 105.80L363.20 103.50Z" fill="#3a16a0" stroke="#2a0e80" stroke-width="0.4"/>
<path d="M366.50 103.20L368.80 105.50L366.50 107.80L364.20 105.50Z" fill="#3a16a0" stroke="#2a0e80" stroke-width="0.4"/>
<path d="M363.50 104.20L365.80 106.50L363.50 108.80L361.20 106.50Z" fill="#3a16a0" stroke="#2a0e80" stroke-width="0.4"/>
<path d="M362.00 105.70L364.30 108.00L362.00 110.30L359.70 108.00Z" fill="#3a16a0" stroke="#2a0e80" stroke-width="0.4"/>
<path d="M375.50 103.20L377.80 105.50L375.50 107.80L373.20 105.50Z" fill="#3a16a0" stroke="#2a0e80" stroke-width="0.4"/>
<path d="M379.00 101.70L381.30 104.00L379.00 106.30L376.70 104.00Z" fill="#3a16a0" stroke="#2a0e80" stroke-width="0.4"/>
<path d="M360.50 109.70L362.80 112.00L360.50 114.30L358.20 112.00Z" fill="#3a16a0" stroke="#2a0e80" stroke-width="0.4"/>
<path d="M439.20 112.70L441.45 117.20L436.95 117.20Z" fill="#fb9ad2" stroke="#30102a" stroke-width="0.8"/>
<path d="M436.55 116.30L438.80 120.80L434.30 120.80Z" fill="#fb9ad2" stroke="#30102a" stroke-width="0.8"/>
<path d="M452.40 117.70L454.65 122.20L450.15 122.20Z" fill="#fb9ad2" stroke="#30102a" stroke-width="0.8"/>
<path d="M443.20 121.30L445.45 125.80L440.95 125.80Z" fill="#fb9ad2" stroke="#30102a" stroke-width="0.8"/>
<path d="M447.30 122.20L449.55 126.70L445.05 126.70Z" fill="#fb9ad2" stroke="#30102a" stroke-width="0.8"/>
<path d="M447.60 126.10L449.85 130.60L445.35 130.60Z" fill="#fb9ad2" stroke="#30102a" stroke-width="0.8"/>
<path d="M446.30 130.20L448.55 134.70L444.05 134.70Z" fill="#fb9ad2" stroke="#30102a" stroke-width="0.8"/>
<path d="M448.90 129.90L451.15 134.40L446.65 134.40Z" fill="#fb9ad2" stroke="#30102a" stroke-width="0.8"/>
<path d="M451.20 131.10L453.45 135.60L448.95 135.60Z" fill="#fb9ad2" stroke="#30102a" stroke-width="0.8"/>
<path d="M453.90 132.00L456.15 136.50L451.65 136.50Z" fill="#fb9ad2" stroke="#30102a" stroke-width="0.8"/>
<path d="M447.10 134.70L449.35 139.20L444.85 139.20Z" fill="#fb9ad2" stroke="#30102a" stroke-width="0.8"/>
<path d="M449.40 136.50L451.65 141.00L447.15 141.00Z" fill="#fb9ad2" stroke="#30102a" stroke-width="0.8"/>
<path d="M451.20 138.30L453.45 142.80L448.95 142.80Z" fill="#fb9ad2" stroke="#30102a" stroke-width="0.8"/>
<path d="M445.80 141.00L448.05 145.50L443.55 145.50Z" fill="#fb9ad2" stroke="#30102a" stroke-width="0.8"/>
<path d="M447.80 138.50L450.05 143.00L445.55 143.00Z" fill="#fb9ad2" stroke="#30102a" stroke-width="0.8"/>
<path d="M432.20 139.50L434.81 144.72L429.59 144.72Z" fill="#fcb0da" stroke="#e48cc0" stroke-width="0.6"/>
<path d="M442.60 149.70L445.21 154.92L439.99 154.92Z" fill="#fcb0da" stroke="#e48cc0" stroke-width="0.6"/>
<path d="M456.60 145.30L459.21 150.52L453.99 150.52Z" fill="#fcb0da" stroke="#e48cc0" stroke-width="0.6"/>
<circle cx="466.50" cy="174.00" r="1.9" fill="#fff" stroke="#ff5030" stroke-width="0.5"/>
<circle cx="469.50" cy="172.50" r="1.9" fill="#fff" stroke="#ff5030" stroke-width="0.5"/>
<circle cx="472.00" cy="172.00" r="1.9" fill="#fff" stroke="#ff5030" stroke-width="0.5"/>
<circle cx="466.00" cy="176.50" r="1.9" fill="#fff" stroke="#ff5030" stroke-width="0.5"/>
<circle cx="469.00" cy="175.50" r="1.9" fill="#fff" stroke="#ff5030" stroke-width="0.5"/>
<circle cx="471.50" cy="175.00" r="1.9" fill="#fff" stroke="#ff5030" stroke-width="0.5"/>
<circle cx="477.00" cy="174.50" r="1.9" fill="#fff" stroke="#ff5030" stroke-width="0.5"/>
<circle cx="461.50" cy="181.00" r="1.9" fill="#fff" stroke="#ff5030" stroke-width="0.5"/>
<circle cx="464.00" cy="182.50" r="1.9" fill="#fff" stroke="#ff5030" stroke-width="0.5"/>
<circle cx="466.50" cy="181.00" r="1.9" fill="#fff" stroke="#ff5030" stroke-width="0.5"/>
<circle cx="469.00" cy="184.00" r="1.9" fill="#fff" stroke="#ff5030" stroke-width="0.5"/>
<circle cx="461.00" cy="183.50" r="1.9" fill="#fff" stroke="#ff5030" stroke-width="0.5"/>
<circle cx="468.00" cy="178.50" r="1.9" fill="#fff" stroke="#ff5030" stroke-width="0.5"/>
<circle cx="470.50" cy="177.50" r="1.9" fill="#fff" stroke="#ff5030" stroke-width="0.5"/>
<circle cx="459.00" cy="186.50" r="1.9" fill="#fff" stroke="#ff5030" stroke-width="0.5"/>
<circle cx="470.50" cy="190.00" r="1.9" fill="#fff" stroke="#ff5030" stroke-width="0.5"/>
<circle cx="464.00" cy="179.00" r="1.9" fill="#fff" stroke="#ff5030" stroke-width="0.5"/>
<circle cx="473.50" cy="174.00" r="1.9" fill="#fff" stroke="#ff5030" stroke-width="0.5"/>
<circle cx="463.00" cy="185.50" r="1.9" fill="#fff" stroke="#ff5030" stroke-width="0.5"/>
<circle cx="466.00" cy="186.00" r="1.9" fill="#fff" stroke="#ff5030" stroke-width="0.5"/>
<circle cx="456.50" cy="190.00" r="1.9" fill="#fff" stroke="#ff5030" stroke-width="0.5"/>
<circle cx="461.50" cy="193.00" r="1.9" fill="#fff" stroke="#ff5030" stroke-width="0.5"/>
<circle cx="451.00" cy="196.00" r="1.9" fill="#fff" stroke="#ff5030" stroke-width="0.5"/>
<circle cx="453.50" cy="197.50" r="1.9" fill="#fff" stroke="#ff5030" stroke-width="0.5"/>
<circle cx="461.50" cy="197.50" r="1.9" fill="#fff" stroke="#ff5030" stroke-width="0.5"/>
<circle cx="464.00" cy="199.00" r="1.9" fill="#fff" stroke="#ff5030" stroke-width="0.5"/>
<circle cx="450.00" cy="200.50" r="1.9" fill="#fff" stroke="#ff5030" stroke-width="0.5"/>
<circle cx="453.00" cy="201.50" r="1.9" fill="#fff" stroke="#ff5030" stroke-width="0.5"/>
<circle cx="456.00" cy="201.00" r="1.9" fill="#fff" stroke="#ff5030" stroke-width="0.5"/>
<circle cx="462.00" cy="201.50" r="1.9" fill="#fff" stroke="#ff5030" stroke-width="0.5"/>
<circle cx="448.50" cy="203.50" r="1.9" fill="#fff" stroke="#ff5030" stroke-width="0.5"/>
<circle cx="451.50" cy="204.50" r="1.9" fill="#fff" stroke="#ff5030" stroke-width="0.5"/>
<circle cx="454.50" cy="204.00" r="1.9" fill="#fff" stroke="#ff5030" stroke-width="0.5"/>
<circle cx="447.50" cy="206.50" r="1.9" fill="#fff" stroke="#ff5030" stroke-width="0.5"/>
<circle cx="450.50" cy="207.50" r="1.9" fill="#fff" stroke="#ff5030" stroke-width="0.5"/>
<circle cx="453.50" cy="207.00" r="1.9" fill="#fff" stroke="#ff5030" stroke-width="0.5"/>
<circle cx="449.00" cy="209.50" r="1.9" fill="#fff" stroke="#ff5030" stroke-width="0.5"/>
<circle cx="452.00" cy="210.00" r="1.9" fill="#fff" stroke="#ff5030" stroke-width="0.5"/>
<circle cx="444.00" cy="211.50" r="1.9" fill="#fff" stroke="#ff5030" stroke-width="0.5"/>
<circle cx="455.00" cy="209.00" r="1.9" fill="#fff" stroke="#ff5030" stroke-width="0.5"/>
<circle cx="458.00" cy="193.50" r="1.9" fill="#fff" stroke="#ff5030" stroke-width="0.5"/>
<circle cx="455.00" cy="194.50" r="1.9" fill="#fff" stroke="#ff5030" stroke-width="0.5"/>
<circle cx="447.00" cy="211.00" r="1.9" fill="#fff" stroke="#ff5030" stroke-width="0.5"/>
<circle cx="450.00" cy="211.50" r="1.9" fill="#fff" stroke="#ff5030" stroke-width="0.5"/>
<circle cx="443.50" cy="215.00" r="1.9" fill="#fff" stroke="#ff5030" stroke-width="0.5"/>
<circle cx="446.50" cy="215.00" r="1.9" fill="#fff" stroke="#ff5030" stroke-width="0.5"/>
<circle cx="441.50" cy="218.00" r="1.9" fill="#fff" stroke="#ff5030" stroke-width="0.5"/>
<circle cx="444.50" cy="218.50" r="1.9" fill="#fff" stroke="#ff5030" stroke-width="0.5"/>
<circle cx="441.00" cy="221.50" r="1.9" fill="#fff" stroke="#ff5030" stroke-width="0.5"/>
<circle cx="444.00" cy="221.50" r="1.9" fill="#fff" stroke="#ff5030" stroke-width="0.5"/>
<circle cx="439.00" cy="224.50" r="1.9" fill="#fff" stroke="#ff5030" stroke-width="0.5"/>
<circle cx="441.50" cy="225.00" r="1.9" fill="#fff" stroke="#ff5030" stroke-width="0.5"/>
<circle cx="435.00" cy="226.50" r="1.9" fill="#fff" stroke="#ff5030" stroke-width="0.5"/>
<circle cx="438.00" cy="227.50" r="1.9" fill="#fff" stroke="#ff5030" stroke-width="0.5"/>
<circle cx="441.50" cy="228.50" r="1.9" fill="#fff" stroke="#ff5030" stroke-width="0.5"/>
<circle cx="431.00" cy="230.00" r="1.9" fill="#fff" stroke="#ff5030" stroke-width="0.5"/>
<circle cx="434.00" cy="230.50" r="1.9" fill="#fff" stroke="#ff5030" stroke-width="0.5"/>
<circle cx="428.00" cy="232.00" r="1.9" fill="#fff" stroke="#ff5030" stroke-width="0.5"/>
<circle cx="437.50" cy="231.00" r="1.9" fill="#fff" stroke="#ff5030" stroke-width="0.5"/>
<circle cx="431.50" cy="233.50" r="1.9" fill="#fff" stroke="#ff5030" stroke-width="0.5"/>
<circle cx="434.50" cy="234.00" r="1.9" fill="#fff" stroke="#ff5030" stroke-width="0.5"/>
<circle cx="422.50" cy="236.00" r="1.9" fill="#fff" stroke="#ff5030" stroke-width="0.5"/>
<circle cx="428.00" cy="237.00" r="1.9" fill="#fff" stroke="#ff5030" stroke-width="0.5"/>
<circle cx="431.00" cy="237.00" r="1.9" fill="#fff" stroke="#ff5030" stroke-width="0.5"/>
<circle cx="428.00" cy="240.00" r="1.9" fill="#fff" stroke="#ff5030" stroke-width="0.5"/>
<circle cx="430.50" cy="240.00" r="1.9" fill="#fff" stroke="#ff5030" stroke-width="0.5"/>
<circle cx="429.50" cy="243.50" r="1.9" fill="#fff" stroke="#ff5030" stroke-width="0.5"/>
<path d="M463.60 141.50L466.03 146.36L461.17 146.36Z" fill="#04cc04" stroke="#0a8a1a" stroke-width="0.5"/>
<path d="M452.00 149.30L454.43 154.16L449.57 154.16Z" fill="#04cc04" stroke="#0a8a1a" stroke-width="0.5"/>
<path d="M457.10 152.50L459.53 157.36L454.67 157.36Z" fill="#04cc04" stroke="#0a8a1a" stroke-width="0.5"/>
<path d="M465.40 152.80L467.83 157.66L462.97 157.66Z" fill="#04cc04" stroke="#0a8a1a" stroke-width="0.5"/>
<path d="M469.80 164.80L472.23 169.66L467.37 169.66Z" fill="#04cc04" stroke="#0a8a1a" stroke-width="0.5"/>
<path d="M475.50 185.60L477.93 190.46L473.07 190.46Z" fill="#04cc04" stroke="#0a8a1a" stroke-width="0.5"/>
<path d="M471.20 194.30L473.63 199.16L468.77 199.16Z" fill="#04cc04" stroke="#0a8a1a" stroke-width="0.5"/>
<path d="M480.00 197.10L482.43 201.96L477.57 201.96Z" fill="#04cc04" stroke="#0a8a1a" stroke-width="0.5"/>
<path d="M483.60 204.30L486.03 209.16L481.17 209.16Z" fill="#04cc04" stroke="#0a8a1a" stroke-width="0.5"/>
<path d="M444.50 201.30L446.93 206.16L442.07 206.16Z" fill="#04cc04" stroke="#0a8a1a" stroke-width="0.5"/>
<path d="M478.75 215.50L481.18 220.36L476.32 220.36Z" fill="#04cc04" stroke="#0a8a1a" stroke-width="0.5"/>
<circle cx="476.50" cy="175.50" r="1.9" fill="#ee2200" stroke="#3c0800" stroke-width="0.6"/>
<circle cx="482.50" cy="175.00" r="1.9" fill="#ee2200" stroke="#3c0800" stroke-width="0.6"/>
<circle cx="470.00" cy="182.00" r="1.9" fill="#ee2200" stroke="#3c0800" stroke-width="0.6"/>
<circle cx="478.00" cy="181.00" r="1.9" fill="#ee2200" stroke="#3c0800" stroke-width="0.6"/>
<circle cx="459.00" cy="189.20" r="1.9" fill="#ee2200" stroke="#3c0800" stroke-width="0.6"/>
<circle cx="463.80" cy="188.00" r="1.9" fill="#ee2200" stroke="#3c0800" stroke-width="0.6"/>
<circle cx="466.20" cy="190.20" r="1.9" fill="#ee2200" stroke="#3c0800" stroke-width="0.6"/>
<circle cx="457.50" cy="197.80" r="1.9" fill="#ee2200" stroke="#3c0800" stroke-width="0.6"/>
<circle cx="467.20" cy="198.00" r="1.9" fill="#ee2200" stroke="#3c0800" stroke-width="0.6"/>
<circle cx="466.80" cy="202.80" r="1.9" fill="#ee2200" stroke="#3c0800" stroke-width="0.6"/>
<circle cx="459.00" cy="205.00" r="1.9" fill="#ee2200" stroke="#3c0800" stroke-width="0.6"/>
<circle cx="457.50" cy="212.30" r="1.9" fill="#ee2200" stroke="#3c0800" stroke-width="0.6"/>
<circle cx="454.00" cy="216.00" r="1.9" fill="#ee2200" stroke="#3c0800" stroke-width="0.6"/>
<rect x="512.50" y="242.80" width="3.0" height="3.0" fill="#ffe800" stroke="#6a6000" stroke-width="0.5"/>
<rect x="514.80" y="243.70" width="3.0" height="3.0" fill="#ffe800" stroke="#6a6000" stroke-width="0.5"/>
<rect x="515.00" y="245.70" width="3.0" height="3.0" fill="#ffe800" stroke="#6a6000" stroke-width="0.5"/>
<rect x="512.10" y="246.50" width="3.0" height="3.0" fill="#ffe800" stroke="#6a6000" stroke-width="0.5"/>
<rect x="513.70" y="248.10" width="3.0" height="3.0" fill="#ffe800" stroke="#6a6000" stroke-width="0.5"/>
<rect x="513.10" y="250.10" width="3.0" height="3.0" fill="#ffe800" stroke="#6a6000" stroke-width="0.5"/>
<rect x="517.80" y="241.10" width="3.0" height="3.0" fill="#ffe800" stroke="#6a6000" stroke-width="0.5"/>
<rect x="518.80" y="242.50" width="3.0" height="3.0" fill="#ffe800" stroke="#6a6000" stroke-width="0.5"/>
<rect x="519.30" y="244.10" width="3.0" height="3.0" fill="#ffe800" stroke="#6a6000" stroke-width="0.5"/>
</svg>
</body></html>
